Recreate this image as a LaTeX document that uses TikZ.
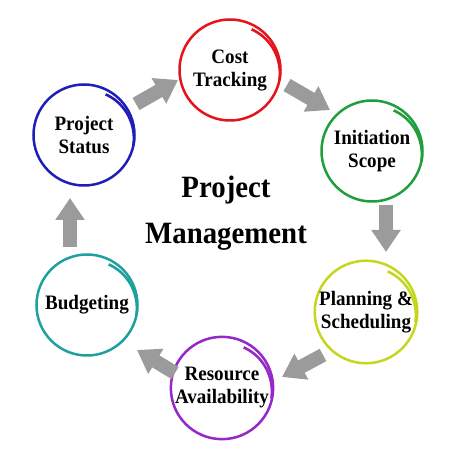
\documentclass[tikz,border=0pt]{standalone}
\usepackage{fontspec}
\setmainfont{Liberation Serif}[FakeStretch=0.93]
\usepackage{tikz}
\usetikzlibrary{arrows.meta}
\definecolor{ctred}{RGB}{228,20,28}
\definecolor{isgreen}{RGB}{30,158,60}
\definecolor{psyellow}{RGB}{196,214,30}
\definecolor{rapurple}{RGB}{150,40,200}
\definecolor{buteal}{RGB}{30,160,158}
\definecolor{stblue}{RGB}{30,30,185}
\definecolor{arrowgray}{RGB}{155,155,155}
\tikzstyle{phase}=[circle, draw, line width=2.5pt, minimum size=101pt, inner sep=0pt, align=center, font=\bfseries\fontsize{20.5}{23}\selectfont]
\tikzstyle{stroke}=[line width=2.6pt, samples=25]
\tikzstyle{flow}=[draw=arrowgray, line width=14pt, -{Triangle[width=28pt, length=22pt]}]
\tikzstyle{title}=[align=center, font=\bfseries\fontsize{31}{46}\selectfont]

\begin{document}
\begin{tikzpicture}[x=1pt, y=1pt]
	\useasboundingbox (0,0) rectangle (450,465);
	\draw (230,395) node[phase, draw=ctred] (ct) {Cost\\Tracking};
	\draw (372,314) node[phase, draw=isgreen] (is) {Initiation\\Scope};
	\draw (366,153) node[phase, draw=psyellow] (ps) {Planning \&\\Scheduling};
	\draw (222,77) node[phase, draw=rapurple] (ra) {Resource\\Availability};
	\draw (87,160) node[phase, draw=buteal] (bu) {Budgeting};
	\draw (84,330) node[phase, draw=stblue] (st) {Project\\Status};
	\draw (226,252) node[title] (pm) {Project\\Management};
	\draw[stroke, ctred, shift={(ct.center)}] plot[domain=-12:62] (\x:{50.5-4.5*(\x+12)/74});
	\draw[stroke, isgreen, shift={(is.center)}] plot[domain=-12:62] (\x:{50.5-4.5*(\x+12)/74});
	\draw[stroke, psyellow, shift={(ps.center)}] plot[domain=-12:62] (\x:{50.5-4.5*(\x+12)/74});
	\draw[stroke, rapurple, shift={(ra.center)}] plot[domain=-12:62] (\x:{50.5-4.5*(\x+12)/74});
	\draw[stroke, buteal, shift={(bu.center)}] plot[domain=-12:62] (\x:{50.5-4.5*(\x+12)/74});
	\draw[stroke, stblue, shift={(st.center)}] plot[domain=-12:62] (\x:{50.5-4.5*(\x+12)/74});
	\coordinate (ct-out) at (287,380);
	\coordinate (is-in) at (330,355);
	\coordinate (is-out) at (386,260);
	\coordinate (ps-in) at (386,213);
	\coordinate (ps-out) at (323,110);
	\coordinate (ra-in) at (282,88);
	\coordinate (ra-out) at (175,92);
	\coordinate (bu-in) at (137,115);
	\coordinate (bu-out) at (70,218);
	\coordinate (st-in) at (70,267);
	\coordinate (st-out) at (136,361);
	\coordinate (ct-in) at (178,385);
	\draw[flow] (ct-out) -- (is-in);
	\draw[flow] (is-out) -- (ps-in);
	\draw[flow] (ps-out) -- (ra-in);
	\draw[flow] (ra-out) -- (bu-in);
	\draw[flow] (bu-out) -- (st-in);
	\draw[flow] (st-out) -- (ct-in);
\end{tikzpicture}
\end{document}
